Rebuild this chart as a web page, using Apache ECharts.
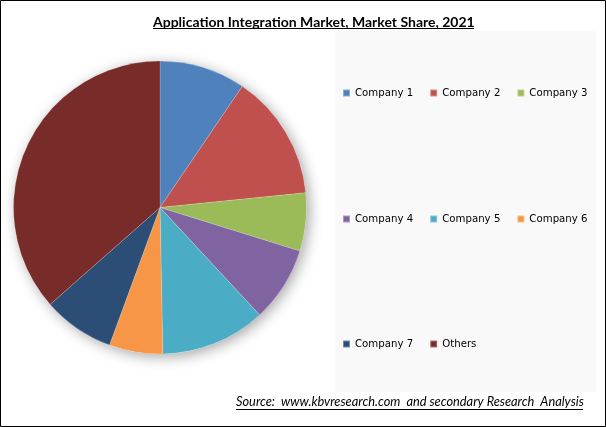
<!DOCTYPE html>
<html>
<head>
<meta charset="utf-8">
<script src="https://cdn.jsdelivr.net/npm/echarts@6/dist/echarts.min.js"></script>
<style>html,body{margin:0;padding:0;background:#fff}#c{width:606px;height:427px}</style>
</head>
<body>
<div id="c"></div>
<script>
const categories = ['Company 1','Company 2','Company 3','Company 4','Company 5','Company 6','Company 7','Others'];
const shares = [9.5, 13.9, 6.4, 8.3, 11.6, 5.9, 7.9, 36.5];
const colors = ['#4F81BD','#C0504D','#9BBB59','#8064A2','#4BACC6','#F79646','#2C4D75','#772C2A'];
const legendRows = [['Company 1','Company 2','Company 3'],['Company 4','Company 5','Company 6'],['Company 7','Others']];
const titleText = 'Application Integration Market, Market Share, 2021';
const sourceText = 'Source:  www.kbvresearch.com  and secondary Research  Analysis';

const chart = echarts.init(document.getElementById('c'), null, {renderer:'canvas'});
const rowTops = [87, 213, 338];
const legendFont = {fontFamily:'DejaVu Sans', fontSize:10.2, color:'#000', lineHeight:12};
const option = {
  animation:false,
  backgroundColor:'#fff',
  color: colors,
  title:{
    text: titleText, left: 148, top: 10,
    textStyle:{fontFamily:'Lato', fontWeight:'bold', fontSize:14, color:'#000'}
  },
  legend: legendRows.map((row,i)=>({
    data: row, left: 342, top: rowTops[i], orient:'horizontal',
    icon:'rect', itemWidth:7, itemHeight:7, itemGap:16,
    textStyle: legendFont, selectedMode:false, padding:0
  })),
  graphic:[
    {type:'rect', z:-10, shape:{x:335,y:31,width:261,height:361}, style:{fill:'#f9f9f9'}},
    {type:'rect', z:100, shape:{x:0.5,y:0.5,width:605,height:426}, style:{fill:null, stroke:'#000', lineWidth:1}},
    {type:'text', left:236, top:395, style:{text:sourceText, font:'italic 12.8px Lato', fill:'#000'}},
    {type:'line', shape:{x1:236,y1:409.5,x2:583,y2:409.5}, style:{stroke:'#000', lineWidth:1}},
    {type:'line', shape:{x1:153,y1:28.5,x2:474,y2:28.5}, style:{stroke:'#000', lineWidth:1}}
  ],
  series:[
    {
      type:'pie', silent:true, center:[160,207.5], radius:146.5, z:1,
      label:{show:false}, labelLine:{show:false},
      itemStyle:{color:'#fff', shadowBlur:14, shadowColor:'rgba(0,0,0,0.35)', shadowOffsetX:3, shadowOffsetY:3},
      data:[{value:1, name:'_shadow'}]
    },
    {
      type:'pie', center:[160,207.5], radius:146.5, startAngle:90, clockwise:true, z:2,
      label:{show:false}, labelLine:{show:false},
      itemStyle:{borderColor:'rgba(255,255,255,0.35)', borderWidth:0.5},
      data: categories.map((c,i)=>({name:c, value:shares[i], itemStyle:{color:colors[i]}}))
    }
  ]
};
chart.setOption(option);
</script>
</body>
</html>
